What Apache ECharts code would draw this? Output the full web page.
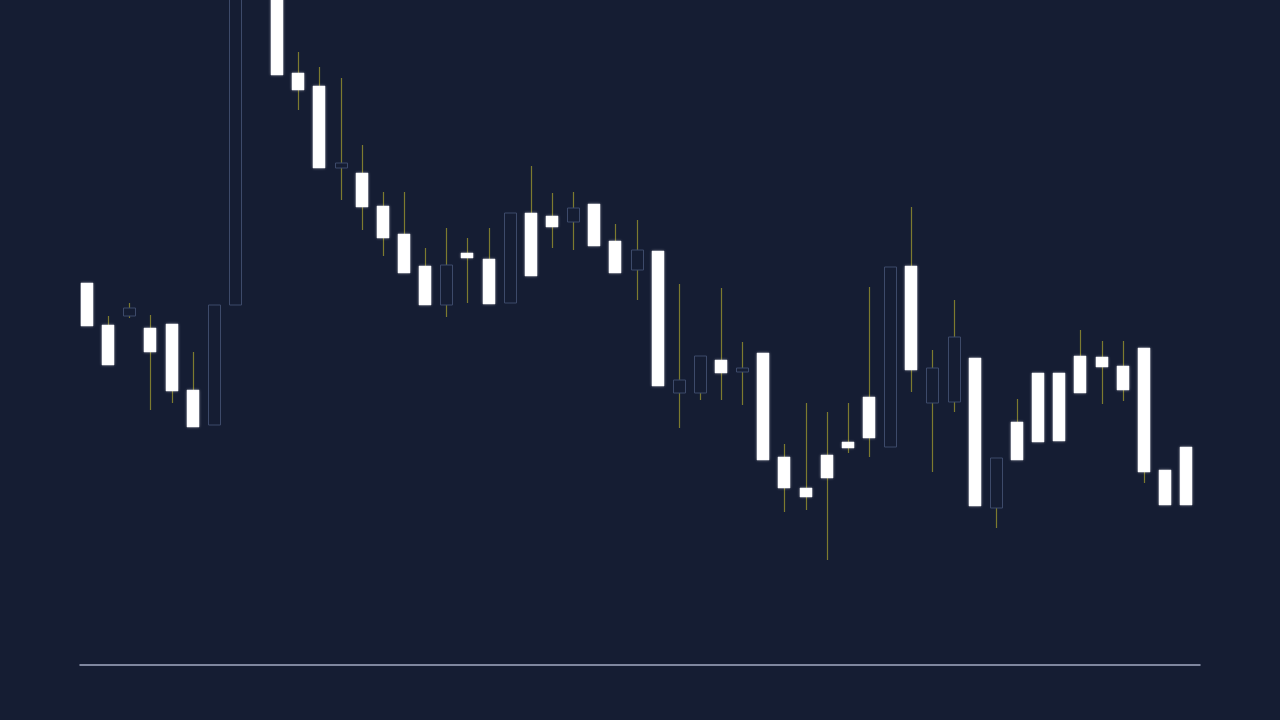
<!DOCTYPE html>
<html>
<head>
<meta charset="utf-8">
<script src="https://cdn.jsdelivr.net/npm/echarts@6/dist/echarts.min.js"></script>
<style>
  html, body { margin: 0; padding: 0; background: #151d33; }
  #chart { width: 1280px; height: 720px; }
</style>
</head>
<body>
<div id="chart"></div>
<script>
// Session index of each candle (slot 8 lies above the visible range and is not drawn)
const days  = [0,1,2,3,4,5,6,7,9,10,11,12,13,14,15,16,17,18,19,20,21,22,23,24,25,26,27,28,29,30,31,32,33,34,35,36,37,38,39,40,41,42,43,44,45,46,47,48,49,50,51,52];
const opens = [76.4,68.0,69.8,67.4,68.2,55.0,48.0,72.0,139.0,118.4,115.8,99.4,98.4,91.8,86.2,79.8,72.0,82.4,81.2,72.4,90.4,89.8,88.6,92.2,84.8,79.0,82.8,54.4,54.4,61.0,58.6,62.4,41.6,35.4,42.0,44.6,53.6,43.6,79.8,52.4,52.6,61.4,31.4,48.6,58.4,58.4,61.8,61.6,59.8,63.4,39.0,43.6];
const closes= [67.8,60.0,71.4,62.6,54.8,47.6,72.0,140.0,118.0,115.0,99.4,100.4,91.6,85.4,78.4,72.0,80.0,81.4,72.2,90.4,77.8,87.6,91.4,83.8,78.4,83.0,55.8,57.0,61.8,58.4,59.4,41.0,35.4,33.6,37.4,43.4,45.4,79.6,59.0,59.4,65.6,31.8,41.4,41.0,44.6,44.8,54.4,59.6,55.0,38.6,32.0,32.0];
const lows  = [67.8,60.0,69.4,51.0,52.4,47.6,48.0,72.0,118.0,111.0,99.4,93.0,87.0,81.8,78.4,72.0,69.6,72.4,72.2,72.4,77.8,83.4,83.0,83.8,78.4,73.0,55.8,47.4,53.0,53.0,52.0,41.0,30.6,31.0,21.0,42.4,41.6,43.6,54.6,38.6,50.6,31.8,27.4,41.0,44.6,44.8,54.4,52.2,52.8,36.4,32.0,32.0];
const highs = [76.4,69.8,72.4,70.0,68.2,62.6,72.0,141.0,140.0,122.6,119.6,117.4,104.0,94.6,94.6,83.4,87.4,85.4,87.4,90.4,99.8,94.4,94.6,92.2,88.2,89.0,82.8,76.2,61.8,75.4,64.6,62.4,44.2,52.4,50.6,52.4,75.6,79.6,91.6,63.0,73.0,61.4,41.4,53.2,58.4,58.4,67.0,64.8,64.8,63.4,39.0,43.6];

const data = days.map((d, i) => [d, opens[i], closes[i], lows[i], highs[i]]);

const WICK = '#7d7a2f';
const HOLLOW = '#3d4a6a';
const BODY_W = 12;

const chart = echarts.init(document.getElementById('chart'), null, { renderer: 'canvas' });
chart.setOption({
  backgroundColor: '#151d33',
  animation: false,
  grid: { left: 80, right: 80, top: 0, bottom: 55 },
  xAxis: {
    type: 'value',
    min: -0.33,
    max: 52.66,
    axisLine: { show: true, lineStyle: { color: '#a3abc4', width: 1.5 } },
    axisTick: { show: false },
    axisLabel: { show: false },
    splitLine: { show: false }
  },
  yAxis: {
    type: 'value',
    min: 0,
    max: 133,
    axisLine: { show: false },
    axisTick: { show: false },
    axisLabel: { show: false },
    splitLine: { show: false }
  },
  series: [{
    type: 'custom',
    clip: true,
    data: data,
    encode: { x: 0, y: [1, 2, 3, 4] },
    renderItem: function (params, api) {
      const k = api.value(0), o = api.value(1), c = api.value(2), l = api.value(3), h = api.value(4);
      const pO = api.coord([k, o]);
      const pC = api.coord([k, c]);
      const pL = api.coord([k, l]);
      const pH = api.coord([k, h]);
      const x = Math.round(pO[0]) + 0.5;
      const top = Math.min(pO[1], pC[1]);
      const bot = Math.max(pO[1], pC[1]);
      const up = c > o;
      const children = [];
      if (pH[1] < top - 0.5) {
        children.push({ type: 'line', shape: { x1: x, y1: pH[1], x2: x, y2: top }, style: { stroke: WICK, lineWidth: 1.2 } });
      }
      if (pL[1] > bot + 0.5) {
        children.push({ type: 'line', shape: { x1: x, y1: bot, x2: x, y2: pL[1] }, style: { stroke: WICK, lineWidth: 1.2 } });
      }
      const bx = Math.round(pO[0] - BODY_W / 2);
      const bh = Math.max(bot - top, 2);
      if (up) {
        children.push({ type: 'rect', shape: { x: bx + 0.5, y: top, width: BODY_W, height: bh }, style: { fill: 'none', stroke: HOLLOW, lineWidth: 1 } });
      } else {
        children.push({ type: 'rect', shape: { x: bx, y: top, width: BODY_W, height: bh }, style: { fill: '#ffffff', stroke: '#f4f6fb', lineWidth: 0.5, shadowBlur: 3, shadowColor: 'rgba(255,255,255,0.35)' } });
      }
      return { type: 'group', children: children };
    }
  }]
});
</script>
</body>
</html>
